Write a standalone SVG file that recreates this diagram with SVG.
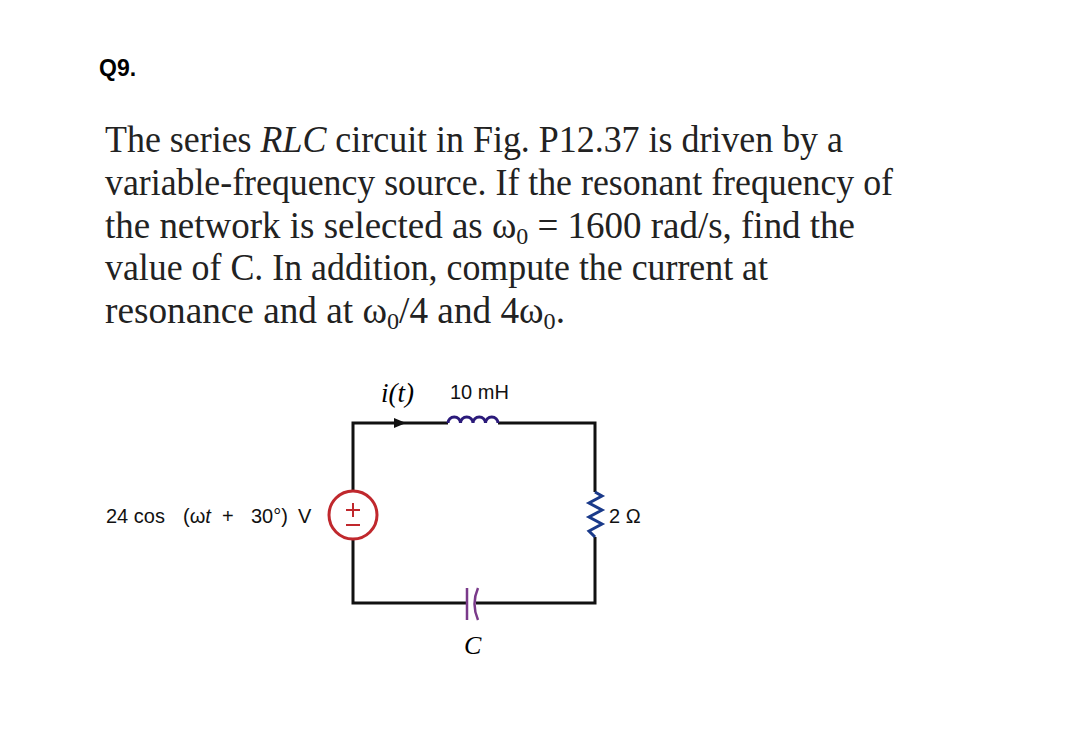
<svg xmlns="http://www.w3.org/2000/svg" width="1066" height="745" viewBox="0 0 1066 745">
<style>
.t{font-family:"Liberation Serif",serif;font-size:37px;fill:#222}
.s{font-family:"Liberation Sans",sans-serif;font-size:20px;fill:#111}
.w{fill:none;stroke:#111;stroke-width:3}
</style>
<rect width="1066" height="745" fill="#fff"/>
<text x="99" y="76" font-family="Liberation Sans,sans-serif" font-weight="bold" font-size="23">Q9.</text>
<g id="question">
<text class="t" x="105" y="152" textLength="738" lengthAdjust="spacingAndGlyphs">The series <tspan font-style="italic">RLC</tspan> circuit in Fig. P12.37 is driven by a</text>
<text class="t" x="105" y="195" textLength="788" lengthAdjust="spacingAndGlyphs">variable-frequency source. If the resonant frequency of</text>
<text class="t" x="105" y="238" textLength="750" lengthAdjust="spacingAndGlyphs">the network is selected as ω<tspan font-size="24" dy="6">0</tspan><tspan dy="-6"> = 1600 rad/s, find the</tspan></text>
<text class="t" x="105" y="280" textLength="663" lengthAdjust="spacingAndGlyphs">value of C. In addition, compute the current at</text>
<text class="t" x="105" y="323" textLength="460" lengthAdjust="spacingAndGlyphs">resonance and at ω<tspan font-size="24" dy="6">0</tspan><tspan dy="-6">/4 and 4ω</tspan><tspan font-size="24" dy="6">0</tspan><tspan dy="-6">.</tspan></text>
</g>
<g id="connectors">
<path class="w" d="M448 423 H353 V491 M353 539 V603 H467 M476 603 H595 V537 M595 492 V423 H498"/>
<path d="M394 418 L406 423 L394 428 Z" fill="#111"/>
</g>
<g id="source">
<circle cx="353" cy="515" r="24" fill="#fff" stroke="#c0282d" stroke-width="3"/>
<path d="M346 510 H360 M353 503 V517 M346 525 H360" stroke="#c0282d" stroke-width="2"/>
<text class="s" x="106" y="523" font-size="21">24 cos<tspan x="183">(ω</tspan><tspan font-style="italic">t</tspan><tspan x="222">+</tspan><tspan x="251">30°)</tspan><tspan x="298">V</tspan></text>
</g>
<g id="inductor">
<path d="M448 423 a6.25 6 0 0 1 12.5 0 a6.25 6 0 0 1 12.5 0 a6.25 6 0 0 1 12.5 0 a6.25 6 0 0 1 12.5 0" fill="none" stroke="#2b1a7a" stroke-width="3"/>
<text class="s" x="450" y="399">10 mH</text>
<text x="381" y="402" font-family="Liberation Serif,serif" font-style="italic" font-size="27">i(t)</text>
</g>
<g id="resistor">
<path d="M595 492 L602 496 L589 503 L602 510 L589 517 L602 524 L589 531 L595 537" fill="none" stroke="#1a3a8a" stroke-width="3"/>
<text class="s" x="609" y="523">2 Ω</text>
</g>
<g id="capacitor">
<path d="M467 588 V620 M478 588 Q471 604 478 620" fill="none" stroke="#7a3a8a" stroke-width="2.5"/>
<text x="464" y="654" font-family="Liberation Serif,serif" font-style="italic" font-size="26">C</text>
</g>
</svg>
